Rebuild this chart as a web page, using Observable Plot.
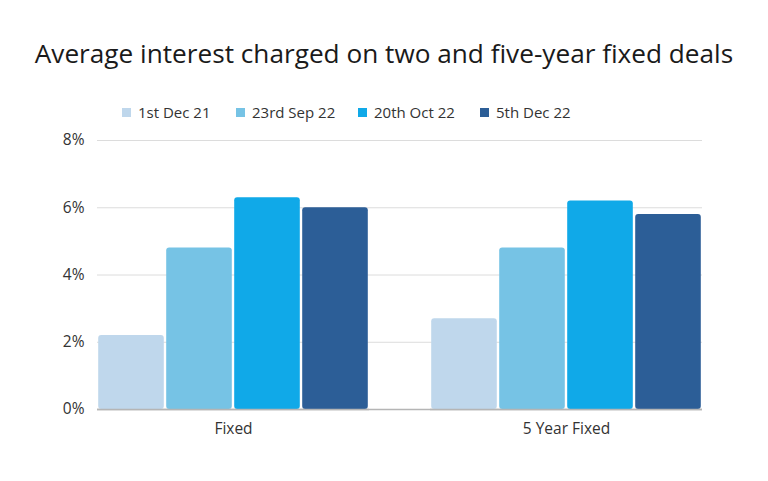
<!DOCTYPE html>
<html>
<head>
<meta charset="utf-8">
<script src="https://cdn.jsdelivr.net/npm/d3@7"></script>
<script src="https://cdn.jsdelivr.net/npm/@observablehq/plot@0.6"></script>
<style>
  html, body { margin: 0; padding: 0; background: #fff; }
  body { width: 768px; height: 481px; overflow: hidden; font-family: "Open Sans", "Noto Sans", sans-serif; color: #222; position: relative; }
  #title { position: absolute; left: 0; top: 35px; width: 768px; text-align: center; font-size: 26.2px; font-weight: 400; color: #1a1a1a; white-space: nowrap; }
  #legend { position: absolute; left: 122px; top: 102px; display: flex; align-items: center; font-size: 15px; color: #333; white-space: nowrap; }
  #legend .item { display: flex; align-items: center; flex: none; }
  #legend .sw { width: 9px; height: 9px; margin-right: 7px; flex: none; }
  .layer { position: absolute; left: 0; top: 125px; }
  .layer svg { background: transparent !important; }
</style>
</head>
<body>
<div id="title">Average interest charged on two and five-year fixed deals</div>
<div id="legend"></div>
<div id="under" class="layer"></div>
<div id="chart" class="layer"></div>
<script>
const categories = ["Fixed", "5 Year Fixed"];
const series = ["1st Dec 21", "23rd Sep 22", "20th Oct 22", "5th Dec 22"];
const fixedValues = [2.2, 4.8, 6.3, 6.0];
const fiveYearValues = [2.7, 4.8, 6.2, 5.8];
const yTicks = [0, 2, 4, 6, 8];
const colors = ["#bfd7ec", "#76c3e5", "#10a9e8", "#2c5e97"];

const data = [];
series.forEach((s, i) => data.push({group: categories[0], series: s, value: fixedValues[i]}));
series.forEach((s, i) => data.push({group: categories[1], series: s, value: fiveYearValues[i]}));

// legend
const legendWidths = [114, 122, 122, 100];
const legend = document.getElementById("legend");
series.forEach((s, i) => {
  const item = document.createElement("div");
  item.className = "item";
  item.style.width = legendWidths[i] + "px";
  const sw = document.createElement("div");
  sw.className = "sw";
  sw.style.background = colors[i];
  const lab = document.createElement("span");
  lab.textContent = s;
  item.appendChild(sw);
  item.appendChild(lab);
  legend.appendChild(item);
});

const common = {
  width: 768,
  height: 356,
  marginTop: 15,
  marginBottom: 72,
  marginLeft: 97,
  marginRight: 66,
  style: {fontFamily: "'Open Sans', 'Noto Sans', sans-serif", fontSize: "15px", color: "#333", background: "transparent"},
  y: {domain: [0, 8], ticks: yTicks, tickFormat: d => d + "%", label: null}
};

// underlay: continuous gridlines, baseline and y axis
const under = Plot.plot({
  ...common,
  marks: [
    Plot.ruleY(yTicks.filter(d => d > 0), {stroke: "#dcdcdc", strokeWidth: 1}),
    Plot.ruleY([0], {stroke: "#b5b5b5", strokeWidth: 1.5}),
    Plot.axisY({ticks: yTicks, tickFormat: d => d + "%", tickSize: 0, tickPadding: 13, fontSize: 15.5, label: null})
  ]
});
document.getElementById("under").appendChild(under);

// bars faceted by group
const chart = Plot.plot({
  ...common,
  fx: {domain: categories, paddingInner: 0.184, paddingOuter: 0, label: null},
  x: {domain: series, padding: 0, axis: null},
  color: {domain: series, range: colors},
  marks: [
    Plot.barY(data, {fx: "group", x: "series", y: "value", fill: "series", insetLeft: 1.2, insetRight: 1.2, rx: 3}),
    Plot.ruleY([0], {stroke: "#b5b5b5", strokeWidth: 1.5}),
    Plot.axisY({ticks: [], tickSize: 0, label: null}),
    Plot.axisFx({anchor: "bottom", tickSize: 0, tickPadding: 13, fontSize: 15.5, label: null})
  ]
});
document.getElementById("chart").appendChild(chart);
</script>
</body>
</html>
